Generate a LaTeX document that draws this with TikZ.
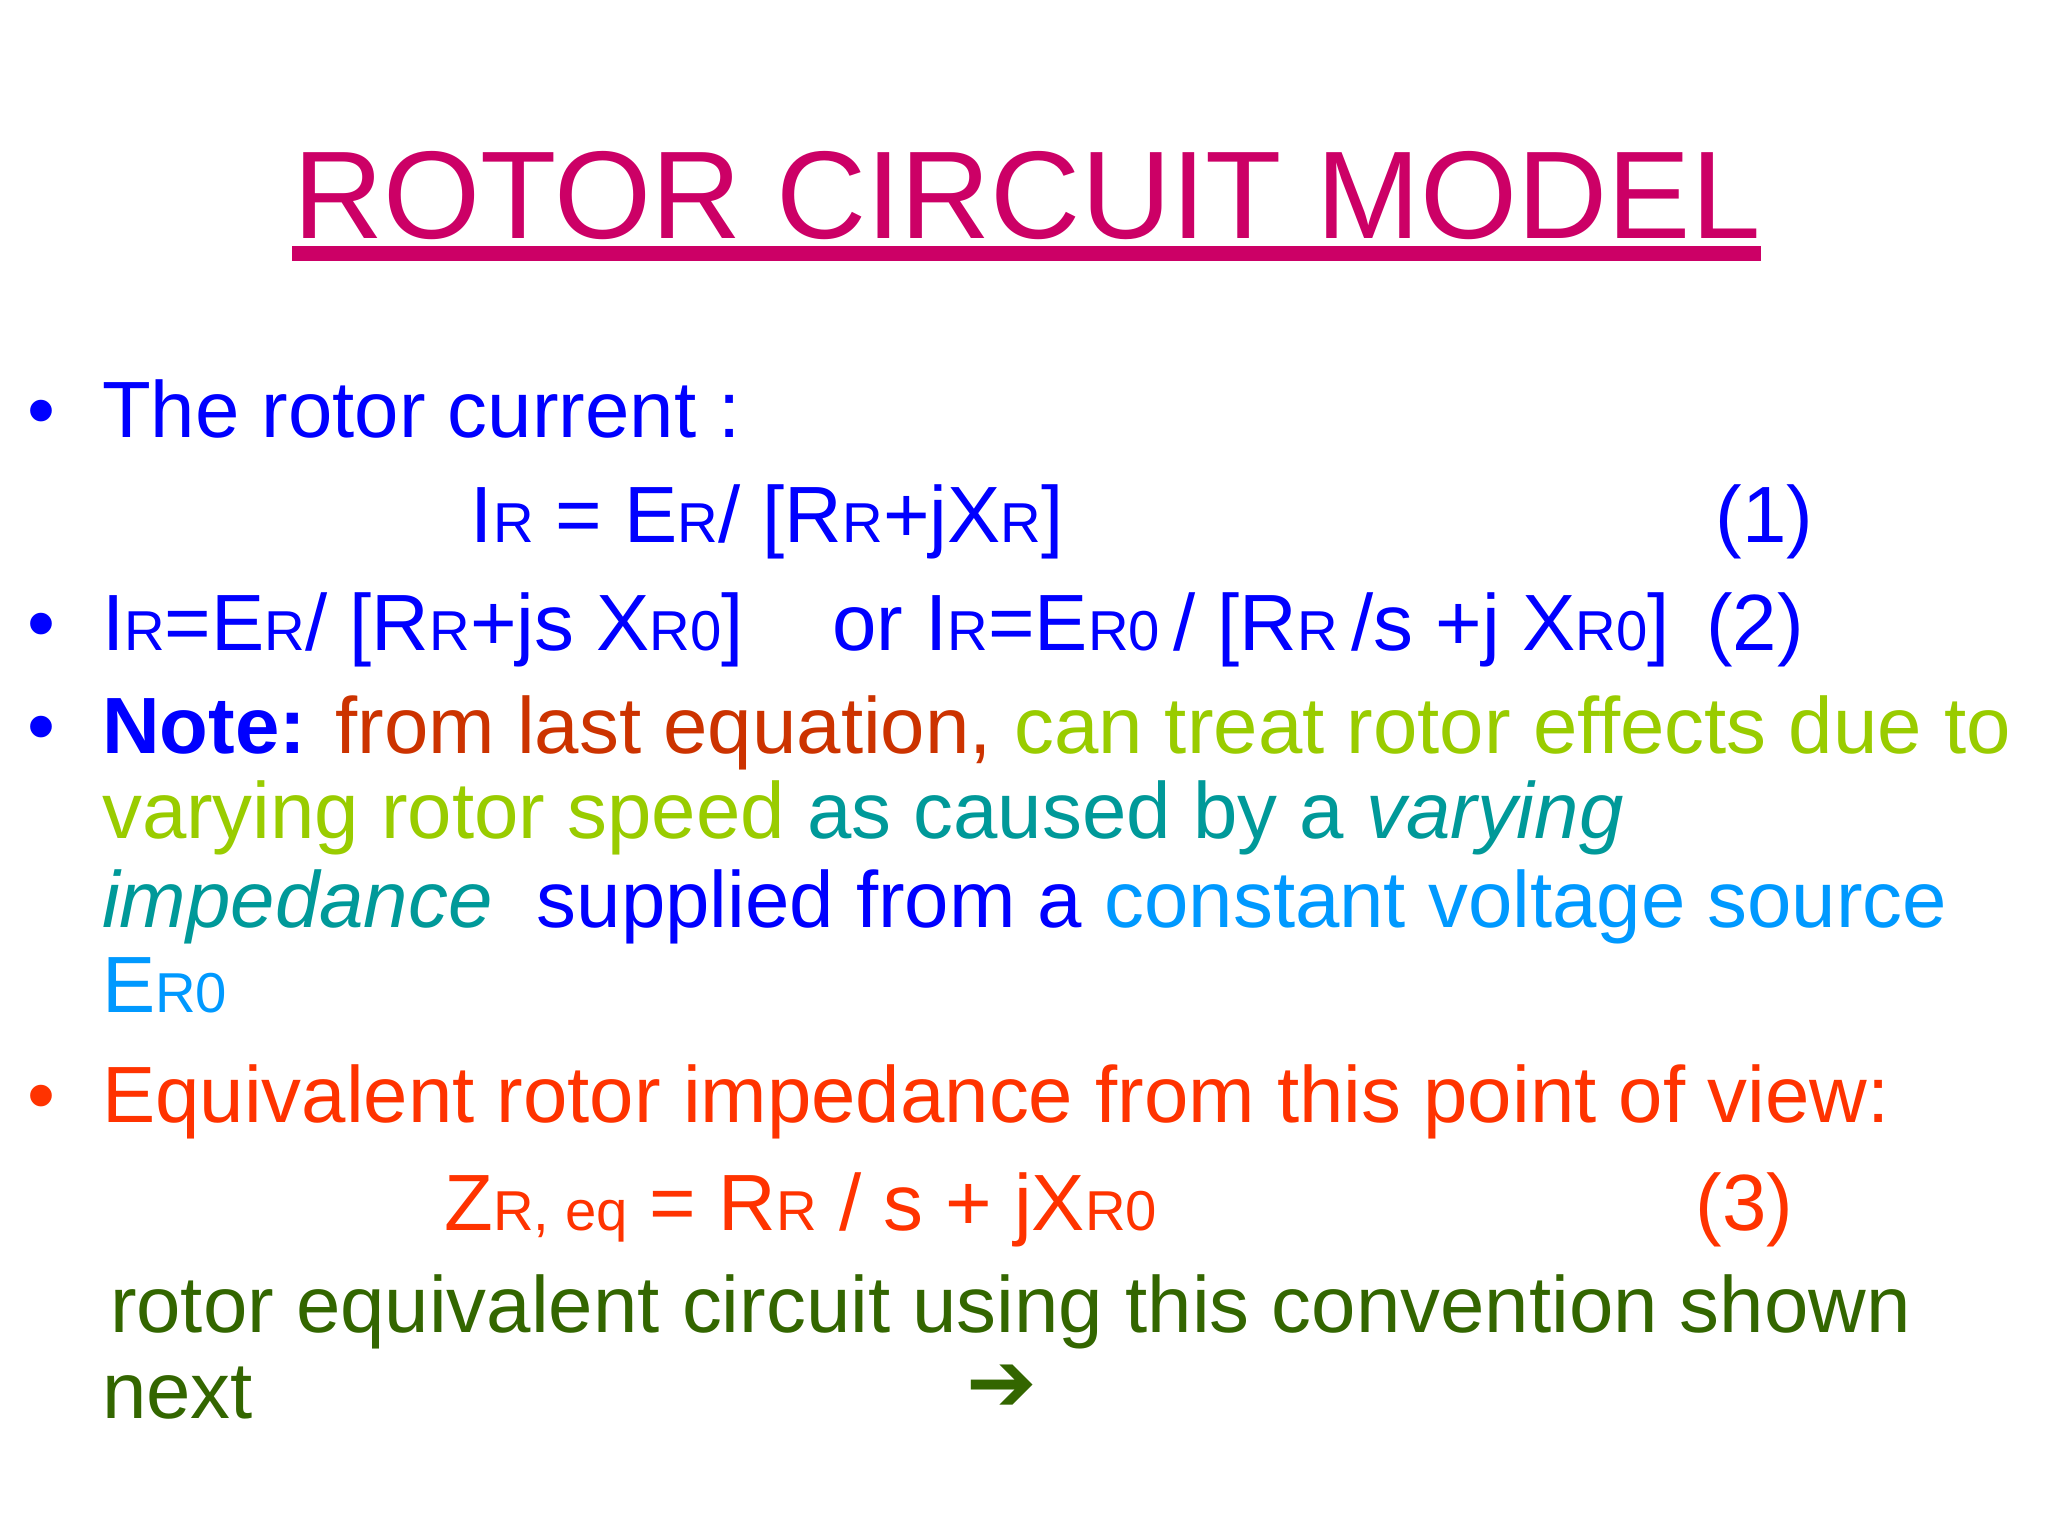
\documentclass[tikz,border=0pt]{standalone}
\usepackage{fontspec}
\setmainfont{Liberation Sans}
\newfontfamily\dvs{DejaVu Sans}
\definecolor{ttl}{HTML}{CC0066}
\definecolor{bl}{HTML}{0000FF}
\definecolor{brn}{HTML}{CC3300}
\definecolor{ygr}{HTML}{99CC00}
\definecolor{tel}{HTML}{009999}
\definecolor{lbl}{HTML}{0099FF}
\definecolor{org}{HTML}{FF3300}
\definecolor{dgr}{HTML}{336600}
\newcommand{\sbx}[1]{{\fontsize{16}{16}\selectfont #1}}
\tikzset{txt/.style={anchor=base west,inner sep=0pt,font=\fontsize{22.7}{26}\selectfont},
ttlstyle/.style={anchor=base west,inner sep=0pt,font=\fontsize{35.5}{40}\selectfont,text=ttl}}
\begin{document}
\begin{tikzpicture}[x=0.01317cm,y=-0.01317cm]
\useasboundingbox (0,0) rectangle (1555,1166);
\node[ttlstyle] (title) at (222,181) {ROTOR CIRCUIT MODEL};
\draw[ttl,line width=4pt] (title.south west) ++(0,10) coordinate (ul1) -- (title.south east |- ul1);
\node[txt,text=bl] (b1) at (20,332) {•};
\node[txt,text=bl] (l1) at (77,332) {The rotor current :};
\node[txt,text=bl] (e1) at (357,412) {I\sbx{R} = E\sbx{R}/ [R\sbx{R}+jX\sbx{R}]};
\node[txt,text=bl] (n1) at (1302,412) {(1)};
\node[txt,text=bl] (b2) at (20,494) {•};
\node[txt,text=bl] (l2) at (77,494) {I\sbx{R}=E\sbx{R}/ [R\sbx{R}+js X\sbx{R0}]\ \ \ \ or I\sbx{R}=E\sbx{R0}\,/ [R\sbx{R}\,/s +j X\sbx{R0}]};
\node[txt,text=bl] (n2) at (1295,494) {(2)};
\node[txt,text=bl] (b3) at (20,572) {•};
\node[txt] (l3) at (77,572) {\textcolor{bl}{\textbf{Note:}} \textcolor{brn}{from last equation,} \textcolor{ygr}{can treat rotor effects due to}};
\node[txt] (l4) at (77,637) {\textcolor{ygr}{varying rotor speed} \textcolor{tel}{as caused by a \textit{varying}}};
\node[txt] (l5) at (77,704) {\textcolor{tel}{\textit{impedance}}\ \ \textcolor{bl}{supplied from a} \textcolor{lbl}{constant voltage source}};
\node[txt,text=lbl] (l6) at (77,769) {E\sbx{R0}};
\node[txt,text=org] (b4) at (20,852) {•};
\node[txt,text=org] (l7) at (77,852) {Equivalent rotor impedance from this point of view:};
\node[txt,text=org] (e3) at (337,934) {Z\sbx{R, eq} = R\sbx{R} / s + jX\sbx{R0}};
\node[txt,text=org] (n3) at (1287,934) {(3)};
\node[txt,text=dgr] (l8) at (83,1012) {rotor equivalent circuit using this convention shown};
\node[txt,text=dgr] (l9) at (77,1077) {next};
\node[txt,text=dgr,font=\dvs\fontsize{24}{26}\selectfont] (arr) at (733,1072) {➔};
\end{tikzpicture}
\end{document}
